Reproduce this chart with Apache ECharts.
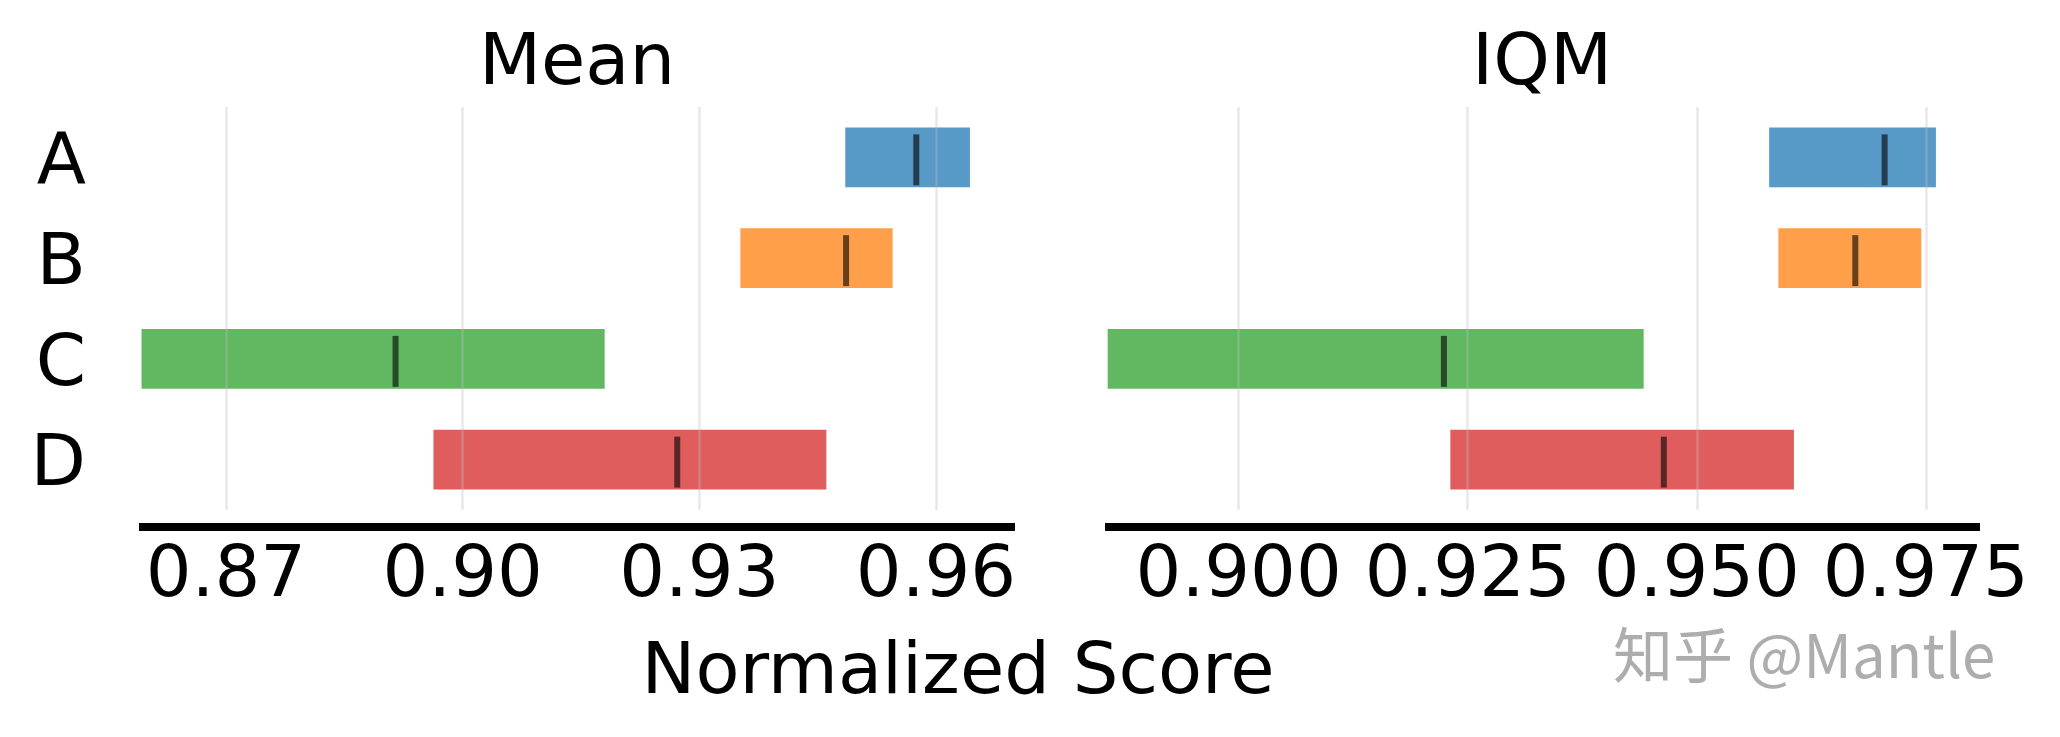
<!DOCTYPE html>
<html>
<head>
<meta charset="utf-8">
<script src="https://cdn.jsdelivr.net/npm/echarts@6/dist/echarts.min.js"></script>
<style>
html,body{margin:0;padding:0;background:#fff;}
#chart{width:2060px;height:737px;}
</style>
</head>
<body>
<div id="chart"></div>
<script>
const categories = ['A', 'B', 'C', 'D'];
const colors = ['#5799c7', '#ff9f4a', '#61b861', '#e05d5e'];

const meanLow = [0.9485, 0.9352, 0.8593, 0.8963];
const meanHigh = [0.9643, 0.9545, 0.9180, 0.9461];
const meanMedian = [0.9575, 0.9486, 0.8915, 0.9272];

const iqmLow = [0.9579, 0.9589, 0.8857, 0.9231];
const iqmHigh = [0.9761, 0.9745, 0.9442, 0.9606];
const iqmMedian = [0.9705, 0.9673, 0.9224, 0.9464];

const meanTicks = [0.87, 0.90, 0.93, 0.96];
const iqmTicks = [0.900, 0.925, 0.950, 0.975];

const panelTitles = ['Mean', 'IQM'];
const xAxisTitle = 'Normalized Score';
const watermark = '知乎 @Mantle';

const FONT = 'DejaVu Sans';
const FS = 72;

function buildData(low, high, med) {
  return categories.map((c, i) => [i, low[i], high[i], med[i]]);
}

function renderItem(params, api) {
  const ci = api.value(0);
  const p1 = api.coord([api.value(1), ci]);
  const p2 = api.coord([api.value(2), ci]);
  const pm = api.coord([api.value(3), ci]);
  const band = api.size([0, 1])[1];
  const h = band * 0.595;
  const top = p1[1] - h / 2;
  return {
    type: 'group',
    children: [
      {
        type: 'rect',
        shape: { x: p1[0], y: top, width: p2[0] - p1[0], height: h },
        style: { fill: colors[ci] }
      },
      {
        type: 'rect',
        shape: { x: pm[0] - 3, y: top + 7, width: 6, height: h - 9 },
        style: { fill: 'rgba(0,0,0,0.6)' }
      }
    ]
  };
}

function gridLineSeries(idx, ticks) {
  return {
    type: 'line',
    xAxisIndex: idx,
    yAxisIndex: idx,
    data: [],
    z: 5,
    silent: true,
    markLine: {
      silent: true,
      precision: 6,
      symbol: ['none', 'none'],
      label: { show: false },
      lineStyle: { type: 'solid', color: 'rgba(190,190,190,0.35)', width: 2.5 },
      data: ticks.map(t => ({ xAxis: t }))
    }
  };
}

function xAxisCfg(idx, min, max, ticks, dec) {
  return {
    gridIndex: idx,
    type: 'value',
    min: min,
    max: max,
    offset: 17,
    axisLine: { show: true, lineStyle: { color: '#000', width: 8, cap: 'butt' } },
    axisTick: { show: false },
    splitLine: { show: false },
    axisLabel: {
      customValues: ticks,
      formatter: v => v.toFixed(dec),
      fontSize: FS,
      fontFamily: FONT,
      color: '#000',
      margin: 14
    }
  };
}

function yAxisCfg(idx, showLabels) {
  return {
    gridIndex: idx,
    type: 'category',
    data: categories,
    inverse: true,
    axisLine: { show: false },
    axisTick: { show: false },
    splitLine: { show: false },
    axisLabel: {
      show: showLabels,
      fontSize: FS,
      fontFamily: FONT,
      color: '#000',
      margin: 53,
      verticalAlign: 'top',
      lineHeight: 14
    }
  };
}

const chart = echarts.init(document.getElementById('chart'), null, { renderer: 'canvas' });

chart.setOption({
  animation: false,
  backgroundColor: '#fff',
  grid: [
    { left: 139, width: 876, top: 107, height: 403 },
    { left: 1105, width: 875, top: 107, height: 403 }
  ],
  xAxis: [
    xAxisCfg(0, 0.85898, 0.97001, meanTicks, 2),
    xAxisCfg(1, 0.88541, 0.98091, iqmTicks, 3)
  ],
  yAxis: [yAxisCfg(0, true), yAxisCfg(1, false)],
  series: [
    {
      type: 'custom',
      xAxisIndex: 0,
      yAxisIndex: 0,
      renderItem: renderItem,
      encode: { x: [1, 2, 3], y: 0 },
      data: buildData(meanLow, meanHigh, meanMedian),
      z: 2
    },
    {
      type: 'custom',
      xAxisIndex: 1,
      yAxisIndex: 1,
      renderItem: renderItem,
      encode: { x: [1, 2, 3], y: 0 },
      data: buildData(iqmLow, iqmHigh, iqmMedian),
      z: 2
    },
    gridLineSeries(0, meanTicks),
    gridLineSeries(1, iqmTicks)
  ],
  graphic: [
    {
      type: 'text',
      x: 577, y: 65,
      style: { text: panelTitles[0], font: FS + 'px "DejaVu Sans"', fill: '#000', align: 'center', verticalAlign: 'middle' }
    },
    {
      type: 'text',
      x: 1542, y: 65,
      style: { text: panelTitles[1], font: FS + 'px "DejaVu Sans"', fill: '#000', align: 'center', verticalAlign: 'middle' }
    },
    {
      type: 'text',
      x: 958, y: 674,
      style: { text: xAxisTitle, font: FS + 'px "DejaVu Sans"', fill: '#000', align: 'center', verticalAlign: 'middle' }
    },
    {
      type: 'text',
      x: 1613, y: 655,
      style: {
        text: watermark,
        font: '60px "Noto Sans CJK SC"',
        fill: '#adadad',
        align: 'left',
        verticalAlign: 'middle',
        textShadowColor: 'rgba(255,255,255,0.9)',
        textShadowOffsetX: -2,
        textShadowOffsetY: -2,
        textShadowBlur: 0
      }
    }
  ]
});
</script>
</body>
</html>
